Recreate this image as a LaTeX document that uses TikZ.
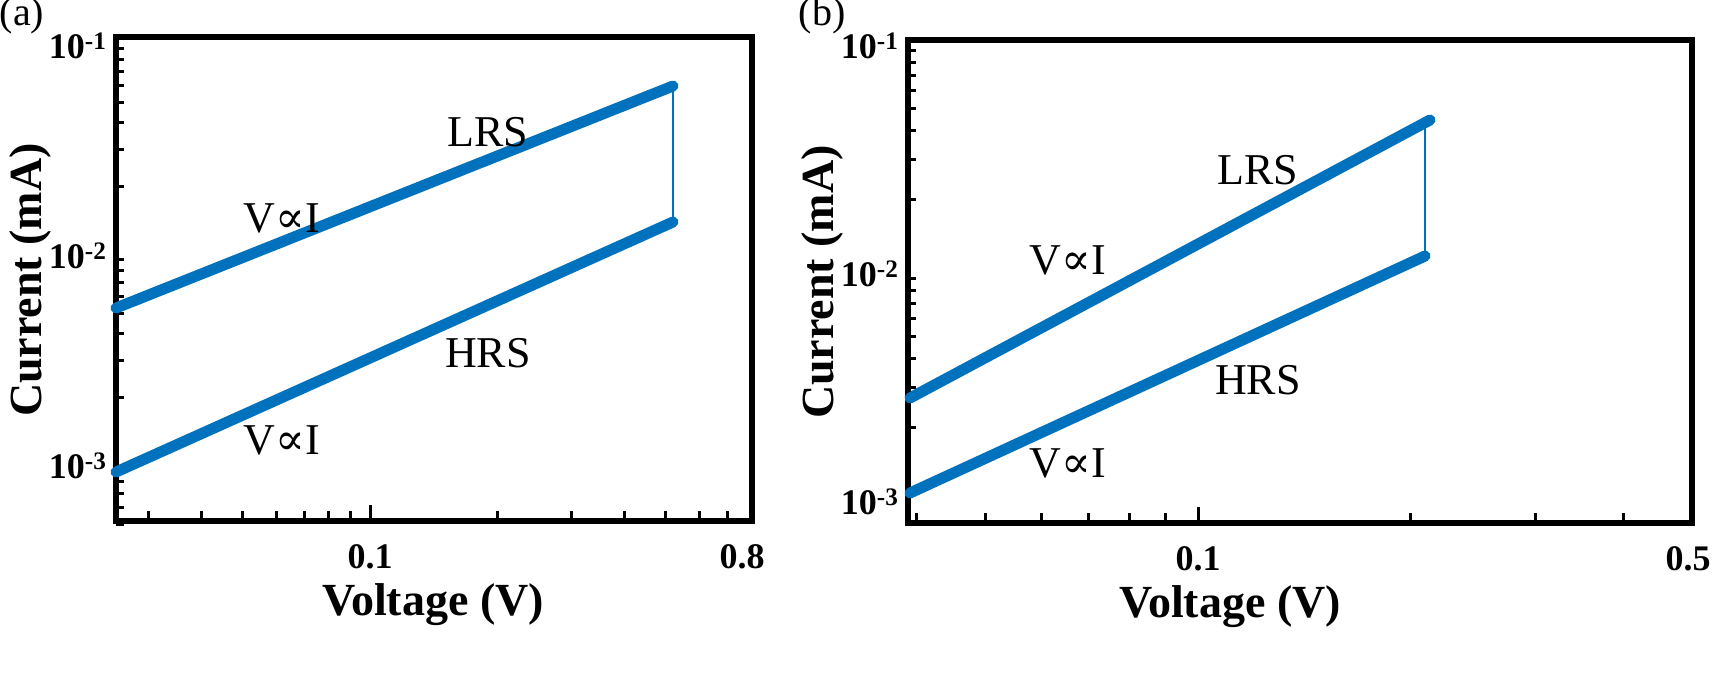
\documentclass[tikz,border=0pt]{standalone}
\usepackage{fontspec}
\setmainfont{Liberation Serif}
\newfontfamily\djv{DejaVu Serif}
\newcommand{\ex}[1]{10\textsuperscript{#1}}
\newcommand{\vpi}{V{\djv ∝}I}
\begin{document}
\begin{tikzpicture}[x=1pt,y=-1pt,
  frame/.style={line width=5.5pt},
  curve/.style={line width=11pt,color=mblue,line cap=round},
  jump/.style={line width=1.2pt,color=mblue},
  tick/.style={line width=3pt},
  lbl/.style={font=\fontsize{44}{50}\selectfont},
  tlbl/.style={font=\fontsize{36}{40}\selectfont\bfseries},
  axl/.style={font=\fontsize{46}{52}\selectfont\bfseries},
  plbl/.style={font=\fontsize{40}{46}\selectfont}]
\definecolor{mblue}{RGB}{0,114,189}
\useasboundingbox (0,0) rectangle (1716,682);
% ---------- panel (a)
\draw[frame] (116,37) rectangle (752,521);
\foreach \m in {3,4,5,6,7,8,9,20,30,40,50,60,70}{
  \pgfmathsetmacro\xx{370+423*log10(\m/10)}
  \draw[tick] (\xx,521) -- (\xx,511);}
\draw[tick] (370,521) -- (370,505);
\foreach \d in {0,1}{\foreach \m in {2,...,9}{
  \pgfmathsetmacro\yy{250+211*\d-211*log10(\m)}
  \draw[tick] (116,\yy) -- (124,\yy);}}
\foreach \m in {5,6,7,8,9}{\pgfmathsetmacro\yy{672-211*log10(\m)}
  \draw[tick] (116,\yy) -- (124,\yy);}
\node[tlbl,anchor=east] (a1) at (110,46) {\ex{-1}};
\node[tlbl,anchor=east] (a2) at (110,256) {\ex{-2}};
\node[tlbl,anchor=east] (a3) at (110,466) {\ex{-3}};
\node[tlbl] (ax1) at (370,557) {0.1};
\node[tlbl] (ax2) at (742,557) {0.8};
\node[axl] (axx) at (433,605) {Voltage (V)};
\node[axl,rotate=90] (axy) at (30,280) {Current (mA)};
\node[plbl] (pa) at (22,16) {(a)};
\coordinate (aL0) at (116,308); \coordinate (aL1) at (673,86);
\coordinate (aH0) at (116,472); \coordinate (aH1) at (673,222);
\draw[jump] (aL1) -- (aH1);
\draw[curve] (aL0) -- (aL1);
\draw[curve] (aH0) -- (aH1);
\node[lbl] (t1) at (488,132) {LRS};
\node[lbl] (t2) at (282,218) {\vpi};
\node[lbl] (t3) at (488,353) {HRS};
\node[lbl] (t4) at (282,440) {\vpi};
% ---------- panel (b)
\draw[frame] (908,40) rectangle (1692,523);
\foreach \m in {4,5,6,7,8,9,20,30,40}{
  \pgfmathsetmacro\xx{1198+707*log10(\m/10)}
  \draw[tick] (\xx,523) -- (\xx,513);}
\draw[tick] (1198,523) -- (1198,507);
\foreach \d in {0,1}{\foreach \m in {2,...,9}{
  \pgfmathsetmacro\yy{268+228*\d-228*log10(\m)}
  \draw[tick] (908,\yy) -- (916,\yy);}}
\node[tlbl,anchor=east] (b1) at (902,46) {\ex{-1}};
\node[tlbl,anchor=east] (b2) at (902,274) {\ex{-2}};
\node[tlbl,anchor=east] (b3) at (902,502) {\ex{-3}};
\node[tlbl] (bx1) at (1198,559) {0.1};
\node[tlbl] (bx2) at (1688,559) {0.5};
\node[axl] (bxx) at (1230,607) {Voltage (V)};
\node[axl,rotate=90] (bxy) at (822,282) {Current (mA)};
\node[plbl] (pb) at (822,16) {(b)};
\coordinate (bL0) at (910,398); \coordinate (bL1) at (1430,120);
\coordinate (bH0) at (910,493); \coordinate (bH1) at (1425,256);
\coordinate (bJ) at (1425,123);
\draw[jump] (bJ) -- (bH1);
\draw[curve] (bL0) -- (bL1);
\draw[curve] (bH0) -- (bH1);
\node[lbl] (u1) at (1258,170) {LRS};
\node[lbl] (u2) at (1068,260) {\vpi};
\node[lbl] (u3) at (1258,380) {HRS};
\node[lbl] (u4) at (1068,463) {\vpi};
\end{tikzpicture}
\end{document}
